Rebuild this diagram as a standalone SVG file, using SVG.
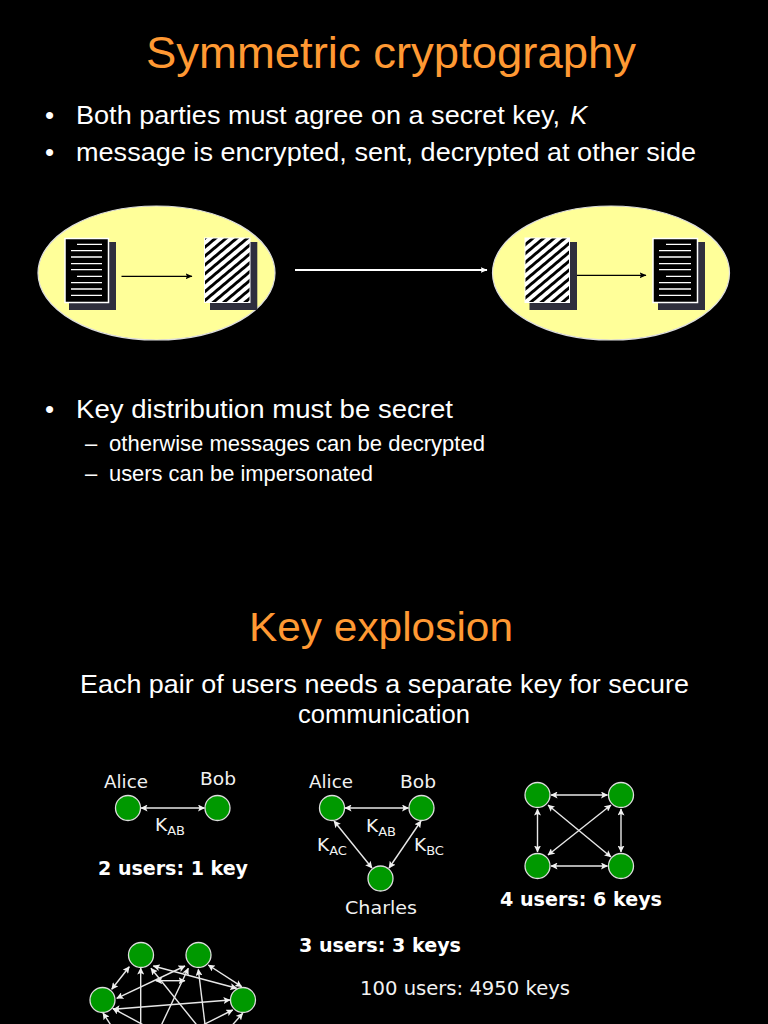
<svg xmlns="http://www.w3.org/2000/svg" width="768" height="1024" viewBox="0 0 768 1024">
<style>
.t{font-family:"Liberation Sans",Arial,sans-serif;fill:#fff;font-size:26px}
.h{font-family:"Liberation Sans",Arial,sans-serif;fill:#ff9933}
.s{font-size:22px}
.v{font-family:"DejaVu Sans","Liberation Sans",sans-serif;fill:#f2f2f2;font-size:18.500px}
.b{font-family:"DejaVu Sans","Liberation Sans",sans-serif;fill:#fff;font-size:19.500px;font-weight:bold}
.sub{font-size:13px}
.ell{fill:#ffff99;stroke:#ddd;stroke-width:1.200}
.shadow{fill:#2f2f3d}
.plain{fill:#000;stroke:#fff;stroke-width:1.500}
.hatch{fill:url(#hatch);stroke:#fff;stroke-width:1}
.tl{stroke:#fff;fill:none}
.u{fill:#009900;stroke:#ddd;stroke-width:1.300}
.dk{stroke:#000;stroke-width:1.200;fill:none;marker-end:url(#ak)}
.wl{stroke:#e8e8e8;stroke-width:1.400;fill:none;marker-start:url(#aw);marker-end:url(#aw)}
.wo{stroke:#e8e8e8;stroke-width:1.400;fill:none;marker-start:url(#aw)}
</style>
<defs>
<pattern id="hatch" width="6.800" height="9" patternUnits="userSpaceOnUse" patternTransform="rotate(50)">
<rect width="6.800" height="9" fill="#fff"/><rect width="2.900" height="9" fill="#000"/>
</pattern>
<marker id="ak" markerWidth="7" markerHeight="6" refX="6.500" refY="3" orient="auto" markerUnits="userSpaceOnUse"><path d="M0 0L7 3L0 6L1.500 3Z" fill="#000"/></marker>
<marker id="aww" markerWidth="7" markerHeight="6" refX="6.500" refY="3" orient="auto" markerUnits="userSpaceOnUse"><path d="M0 0L7 3L0 6L1.500 3Z" fill="#fff"/></marker>
<marker id="aw" markerWidth="7" markerHeight="7" refX="6.500" refY="3.500" orient="auto-start-reverse" markerUnits="userSpaceOnUse"><path d="M0 0L7 3.500L0 7L1.500 3.500Z" fill="#f0f0f0"/></marker>
</defs>
<rect width="768" height="1024" fill="#000"/>

<g id="text-top">
<text class="h" x="146" y="68" font-size="44" textLength="490" lengthAdjust="spacingAndGlyphs">Symmetric cryptography</text>
<text class="t" x="45" y="124">•</text>
<text class="t" x="76" y="124" textLength="484" lengthAdjust="spacingAndGlyphs">Both parties must agree on a secret key,</text>
<text class="t" x="570" y="124" font-style="italic">K</text>
<text class="t" x="45" y="161">•</text>
<text class="t" x="76" y="161" textLength="620" lengthAdjust="spacingAndGlyphs">message is encrypted, sent, decrypted at other side</text>
</g>

<g id="sender">
<ellipse class="ell" cx="156.500" cy="273" rx="118.500" ry="67"/>
<rect class="shadow" x="69" y="242" width="47" height="68"/>
<rect class="plain" x="65" y="238.500" width="43.500" height="64"/>
<path class="tl" stroke-width="1.300" d="M77 244.300H102M71 250.700H102M71 257H102M71 263.700H102M71 269.700H102M77 276.300H102M71 282.700H102M71 289H102M71 295.300H102"/>
<rect class="shadow" x="210" y="242" width="47.300" height="68"/>
<rect class="hatch" x="204.500" y="238" width="45.500" height="64.500"/>
<line class="dk" x1="121.500" y1="276.300" x2="192" y2="276.300"/>
</g>

<g id="receiver">
<ellipse class="ell" cx="611" cy="273" rx="118.500" ry="67"/>
<rect class="shadow" x="529.500" y="242" width="47.500" height="68"/>
<rect class="hatch" x="525" y="238" width="44.500" height="64.500"/>
<rect class="shadow" x="658" y="242" width="47" height="68"/>
<rect class="plain" x="653" y="238.500" width="44.500" height="64"/>
<path class="tl" stroke-width="1.300" d="M666 244.300H691M659 250.700H691M659 257H691M659 263.700H691M659 269.700H691M666 276.300H691M659 282.700H691M659 289H691M659 295.300H691"/>
<line class="dk" x1="577" y1="275.300" x2="646" y2="275.300"/>
</g>

<g id="channel">
<line x1="295" y1="270" x2="487" y2="270" stroke="#fff" stroke-width="2" marker-end="url(#aww)"/>
</g>

<g id="text-mid">
<text class="t" x="45" y="418">•</text>
<text class="t" x="76" y="418" textLength="377" lengthAdjust="spacingAndGlyphs">Key distribution must be secret</text>
<text class="t s" x="85" y="451">–</text>
<text class="t s" x="109" y="451" textLength="376" lengthAdjust="spacingAndGlyphs">otherwise messages can be decrypted</text>
<text class="t s" x="85" y="481">–</text>
<text class="t s" x="109" y="481" textLength="264" lengthAdjust="spacingAndGlyphs">users can be impersonated</text>
<text class="h" x="249" y="641" font-size="41" textLength="264" lengthAdjust="spacingAndGlyphs">Key explosion</text>
<text class="t" x="80" y="693" textLength="609" lengthAdjust="spacingAndGlyphs">Each pair of users needs a separate key for secure</text>
<text class="t" x="298" y="723" textLength="172" lengthAdjust="spacingAndGlyphs">communication</text>
</g>

<g id="connectors">
<line class="wl" x1="141" y1="808" x2="204.500" y2="808"/>
<line class="wl" x1="345" y1="808" x2="408.500" y2="808"/>
<line class="wl" x1="334" y1="821" x2="372" y2="868"/>
<line class="wl" x1="421" y1="821" x2="389" y2="868"/>
<line class="wl" x1="551" y1="795" x2="607.500" y2="795"/>
<line class="wl" x1="551" y1="866" x2="607.500" y2="866"/>
<line class="wl" x1="537.500" y1="809" x2="537.500" y2="852"/>
<line class="wl" x1="621" y1="809" x2="621" y2="852"/>
<line class="wl" x1="548" y1="805" x2="611" y2="857"/>
<line class="wl" x1="611" y1="805" x2="548" y2="855"/>
<line class="wl" x1="129.300" y1="966.700" x2="111.700" y2="989.300"/>
<line class="wl" x1="185" y1="966" x2="116.700" y2="998.300"/>
<line class="wl" x1="153.300" y1="966" x2="236.700" y2="988.300"/>
<line class="wl" x1="208.300" y1="965" x2="241.700" y2="986.700"/>
<line class="wl" x1="113.300" y1="1009.300" x2="230" y2="1000"/>
<line class="wl" x1="155.700" y1="980.700" x2="185" y2="980.700"/>
<line class="wo" x1="140.700" y1="968" x2="140.700" y2="1030"/>
<line class="wo" x1="151" y1="968.300" x2="200.800" y2="1030"/>
<line class="wo" x1="188.300" y1="968.300" x2="159" y2="1030"/>
<line class="wo" x1="198.300" y1="969.300" x2="205.700" y2="1030"/>
<line class="wo" x1="112.700" y1="1008.300" x2="152.700" y2="1030"/>
<line class="wo" x1="232.700" y1="1010" x2="193" y2="1030"/>
<line class="wo" x1="242.700" y1="1013.300" x2="228" y2="1030"/>
<line class="wo" x1="103" y1="1013" x2="114" y2="1030"/>
</g>

<g id="alice-1"><circle class="u" cx="128" cy="808" r="12.500"/><text class="v" x="104" y="788" textLength="44" lengthAdjust="spacingAndGlyphs">Alice</text></g>
<g id="bob-1"><circle class="u" cx="217.500" cy="808" r="12.500"/><text class="v" x="200" y="785" textLength="36" lengthAdjust="spacingAndGlyphs">Bob</text></g>
<g id="key-ab-1"><text class="v" x="155" y="831">K<tspan class="sub" dy="4">AB</tspan></text></g>
<g id="caption-2"><text class="b" x="98" y="875" textLength="150" lengthAdjust="spacingAndGlyphs">2 users: 1 key</text></g>

<g id="alice-2"><circle class="u" cx="332" cy="808" r="12.500"/><text class="v" x="309" y="788" textLength="44" lengthAdjust="spacingAndGlyphs">Alice</text></g>
<g id="bob-2"><circle class="u" cx="421.500" cy="808" r="12.500"/><text class="v" x="400" y="788" textLength="36" lengthAdjust="spacingAndGlyphs">Bob</text></g>
<g id="charles"><circle class="u" cx="380.500" cy="878.500" r="12.500"/><text class="v" x="345" y="914" textLength="72" lengthAdjust="spacingAndGlyphs">Charles</text></g>
<g id="key-ab-2"><text class="v" x="366" y="832">K<tspan class="sub" dy="4">AB</tspan></text></g>
<g id="key-ac"><text class="v" x="317" y="851">K<tspan class="sub" dy="4">AC</tspan></text></g>
<g id="key-bc"><text class="v" x="414" y="851">K<tspan class="sub" dy="4">BC</tspan></text></g>
<g id="caption-3"><text class="b" x="299" y="952" textLength="162" lengthAdjust="spacingAndGlyphs">3 users: 3 keys</text></g>

<g id="n4-a"><circle class="u" cx="537.500" cy="795" r="12.500"/></g>
<g id="n4-b"><circle class="u" cx="621" cy="795" r="12.500"/></g>
<g id="n4-c"><circle class="u" cx="537.500" cy="866" r="12.500"/></g>
<g id="n4-d"><circle class="u" cx="621" cy="866" r="12.500"/></g>
<g id="caption-4"><text class="b" x="500" y="906" textLength="162" lengthAdjust="spacingAndGlyphs">4 users: 6 keys</text></g>

<g id="n6-a"><circle class="u" cx="141" cy="955" r="12.500"/></g>
<g id="n6-b"><circle class="u" cx="198.500" cy="955" r="12.500"/></g>
<g id="n6-c"><circle class="u" cx="102.500" cy="1000" r="12.500"/></g>
<g id="n6-d"><circle class="u" cx="243" cy="1000" r="12.500"/></g>
<g id="caption-100"><text class="v" x="360" y="995" textLength="210" lengthAdjust="spacingAndGlyphs" style="font-size:19px">100 users: 4950 keys</text></g>
</svg>
